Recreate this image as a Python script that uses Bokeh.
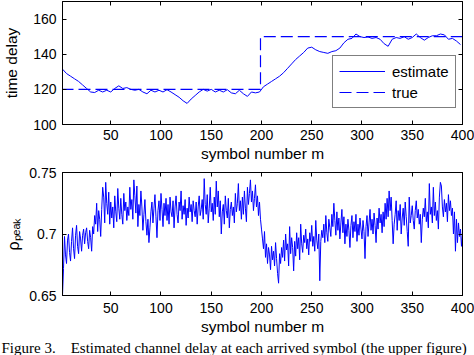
from bokeh.plotting import figure
from bokeh.models import (Range1d, FixedTicker, LinearAxis, Legend, LegendItem, Title,
                          CustomJSTickFormatter)
from bokeh.layouts import column
from bokeh.embed import file_html
from bokeh.resources import INLINE

# ---------------- data ----------------
x_ticks = [50, 100, 150, 200, 250, 300, 350, 400]
delay_ticks = [100, 120, 140, 160]
rho_ticks = [0.65, 0.7, 0.75]

symbols_top = list(range(2, 400, 4))
estimate_delay = [
    131.5, 129.0, 127.5, 126.0, 124.5, 122.5, 120.5, 118.5, 118.2, 119.5,
    118.5, 119.5, 118.5, 120.5, 122.0, 120.5, 121.0, 120.0, 119.5, 120.0,
    118.5, 117.5, 119.5, 118.5, 119.5, 118.5, 119.8, 118.5, 117.0, 115.5,
    113.5, 112.0, 114.5, 116.5, 118.5, 120.0, 119.0, 120.0, 118.5, 119.5,
    118.5, 119.8, 118.0, 117.5, 119.5, 117.5, 116.0, 118.5, 118.0, 118.5,
    121.5, 123.0, 124.5, 126.0, 127.5, 129.5, 132.0, 134.5, 137.0, 139.0,
    141.0, 143.5, 144.0, 142.5, 141.5, 141.0, 140.5, 141.5, 142.0, 143.5,
    146.5, 148.5, 149.0, 151.5, 150.0, 149.5, 149.8, 149.0, 149.5, 148.5,
    146.0, 144.5, 148.5, 149.5, 149.0, 150.0, 148.5, 149.5, 151.5, 149.5,
    148.0, 149.5, 150.5, 150.5, 151.5, 151.0, 148.5, 149.0, 147.5, 145.5,
]

true_symbols = [1, 199, 199, 400]
true_delay = [120, 120, 150, 150]

symbols = list(range(1, 401))
rho_peak_1 = [
    0.680, 0.650, 0.672, 0.698, 0.683, 0.676, 0.695, 0.700, 0.685, 0.678,
    0.694, 0.705, 0.688, 0.680, 0.699, 0.707, 0.690, 0.684, 0.702, 0.696,
    0.686, 0.699, 0.704, 0.692, 0.701, 0.705, 0.694, 0.688, 0.703, 0.697,
    0.686, 0.706, 0.700, 0.715, 0.708, 0.725, 0.702, 0.719, 0.712, 0.698,
    0.720, 0.738, 0.730, 0.709, 0.742, 0.725, 0.716, 0.734, 0.708, 0.726,
    0.713, 0.722, 0.705, 0.731, 0.718, 0.710, 0.737, 0.721, 0.712, 0.729,
    0.716, 0.708, 0.733, 0.719, 0.726, 0.711, 0.722, 0.715, 0.738, 0.720,
    0.728, 0.712, 0.744, 0.731, 0.717, 0.739, 0.706, 0.724, 0.715, 0.735,
    0.722, 0.703, 0.716, 0.728, 0.710, 0.699, 0.712, 0.693, 0.705, 0.718,
    0.726, 0.709, 0.721, 0.732, 0.714, 0.697, 0.719, 0.727, 0.711, 0.733,
]
rho_peak_2 = [
    0.720, 0.706, 0.725, 0.715, 0.729, 0.711, 0.724, 0.708, 0.730, 0.718,
    0.714, 0.727, 0.705, 0.722, 0.731, 0.716, 0.709, 0.726, 0.719, 0.735,
    0.712, 0.723, 0.716, 0.728, 0.707, 0.721, 0.713, 0.730, 0.718, 0.724,
    0.710, 0.727, 0.719, 0.714, 0.726, 0.708, 0.722, 0.731, 0.715, 0.720,
    0.728, 0.712, 0.745, 0.724, 0.716, 0.732, 0.709, 0.721, 0.738, 0.718,
    0.725, 0.711, 0.730, 0.716, 0.743, 0.722, 0.735, 0.714, 0.727, 0.700,
    0.718, 0.724, 0.708, 0.731, 0.719, 0.713, 0.729, 0.705, 0.720, 0.726,
    0.715, 0.722, 0.709, 0.733, 0.718, 0.725, 0.741, 0.719, 0.727, 0.712,
    0.730, 0.716, 0.735, 0.721, 0.710, 0.738, 0.724, 0.733, 0.744, 0.726,
    0.735, 0.719, 0.729, 0.740, 0.722, 0.731, 0.715, 0.726, 0.712, 0.704,
]
rho_peak_3 = [
    0.696, 0.688, 0.702, 0.681, 0.692, 0.676, 0.689, 0.683, 0.671, 0.690,
    0.679, 0.686, 0.674, 0.693, 0.680, 0.668, 0.660, 0.684, 0.676, 0.689,
    0.681, 0.695, 0.678, 0.700, 0.687, 0.692, 0.674, 0.706, 0.684, 0.697,
    0.689, 0.670, 0.694, 0.682, 0.701, 0.688, 0.697, 0.679, 0.708, 0.692,
    0.685, 0.699, 0.693, 0.704, 0.688, 0.696, 0.683, 0.701, 0.694, 0.707,
    0.690, 0.698, 0.686, 0.711, 0.695, 0.688, 0.700, 0.662, 0.694, 0.703,
    0.697, 0.708, 0.693, 0.715, 0.701, 0.694, 0.712, 0.705, 0.698, 0.716,
    0.706, 0.725, 0.711, 0.699, 0.718, 0.703, 0.713, 0.696, 0.709, 0.720,
    0.701, 0.714, 0.692, 0.708, 0.698, 0.712, 0.703, 0.689, 0.707, 0.715,
    0.697, 0.710, 0.702, 0.716, 0.694, 0.708, 0.699, 0.713, 0.704, 0.696,
]
rho_peak_4 = [
    0.711, 0.702, 0.680, 0.706, 0.715, 0.698, 0.709, 0.720, 0.703, 0.712,
    0.700, 0.717, 0.707, 0.693, 0.713, 0.704, 0.721, 0.709, 0.716, 0.701,
    0.718, 0.706, 0.725, 0.712, 0.729, 0.714, 0.735, 0.719, 0.730, 0.711,
    0.692, 0.708, 0.716, 0.727, 0.703, 0.719, 0.711, 0.724, 0.700, 0.713,
    0.721, 0.707, 0.726, 0.714, 0.702, 0.690, 0.730, 0.709, 0.715, 0.723,
    0.711, 0.704, 0.719, 0.727, 0.713, 0.720, 0.708, 0.716, 0.693, 0.712,
    0.721, 0.714, 0.729, 0.710, 0.718, 0.705, 0.741, 0.716, 0.722, 0.709,
    0.738, 0.715, 0.726, 0.711, 0.719, 0.704, 0.730, 0.742, 0.739, 0.722,
    0.714, 0.728, 0.718, 0.725, 0.710, 0.732, 0.719, 0.727, 0.715, 0.721,
    0.700, 0.718, 0.686, 0.712, 0.693, 0.709, 0.698, 0.704, 0.690, 0.701,
]
rho_peak = rho_peak_1 + rho_peak_2 + rho_peak_3 + rho_peak_4

SANS = "Liberation Sans"
BLUE = "#0000ff"
BLANK = CustomJSTickFormatter(code="return ''")


def make_fig(height, y_range, yticks, top_border, bottom_border, tick_standoff, label_standoff):
    p = figure(width=474, height=height, x_range=Range1d(2, 400), y_range=y_range,
               output_backend="svg", toolbar_location=None,
               min_border_left=61, min_border_right=12, min_border_top=top_border,
               min_border_bottom=bottom_border)
    p.grid.visible = False
    p.outline_line_color = "black"
    p.outline_line_width = 1
    p.background_fill_color = "white"
    p.border_fill_color = "white"
    xa = p.xaxis[0]
    ya = p.yaxis[0]
    xa.ticker = FixedTicker(ticks=x_ticks)
    ya.ticker = FixedTicker(ticks=yticks)
    for ax in (xa, ya):
        ax.major_tick_in = 4
        ax.major_tick_out = 0
        ax.minor_tick_in = 0
        ax.minor_tick_out = 0
        ax.axis_line_color = "black"
        ax.major_tick_line_color = "black"
        ax.major_label_text_font = SANS
        ax.major_label_text_font_size = "14px"
        ax.major_label_text_color = "black"
        ax.axis_label_text_font = SANS
        ax.axis_label_text_font_size = "15.5px"
        ax.axis_label_text_font_style = "normal"
        ax.axis_label_text_color = "black"
    xa.major_label_standoff = tick_standoff
    ya.major_label_standoff = 6
    xa.axis_label = "symbol number m"
    xa.axis_label_standoff = label_standoff
    top = LinearAxis(ticker=FixedTicker(ticks=x_ticks), formatter=BLANK,
                     major_tick_in=4, major_tick_out=0,
                     minor_tick_in=0, minor_tick_out=0, major_label_standoff=0,
                     axis_line_color="black")
    right = LinearAxis(ticker=FixedTicker(ticks=yticks), formatter=BLANK,
                       major_tick_in=4, major_tick_out=0,
                       minor_tick_in=0, minor_tick_out=0, major_label_standoff=0,
                       axis_line_color="black")
    p.add_layout(top, "above")
    p.add_layout(right, "right")
    return p


# ---------------- upper figure ----------------
p1 = make_fig(165, Range1d(100, 170), delay_ticks, 1, 41, 5, 2)
p1.yaxis[0].axis_label = "time delay"
p1.yaxis[0].axis_label_standoff = 10
r_est = p1.line(symbols_top, estimate_delay, line_color=BLUE, line_width=1)
r_true = p1.line(true_symbols, true_delay, line_color=BLUE, line_width=1.2, line_dash="12 5")
legend = Legend(items=[LegendItem(label="estimate", renderers=[r_est]),
                       LegendItem(label="true", renderers=[r_true])],
                location=(270, 16), orientation="vertical",
                border_line_color="black", border_line_width=1,
                background_fill_color="white", background_fill_alpha=1,
                label_text_font=SANS, label_text_font_size="15px", label_text_color="black",
                padding=6, spacing=3, glyph_width=46, glyph_height=18, label_height=18,
                label_standoff=7, margin=0)
p1.add_layout(legend)

# ---------------- lower figure ----------------
p2 = make_fig(190, Range1d(0.65, 0.75), rho_ticks, 7, 40, 7, 2)
p2.yaxis[0].major_label_overrides = {0.65: "0.65", 0.7: "0.7", 0.75: "0.75"}
p2.yaxis[0].axis_label = "ρₚₑₐₖ"
p2.yaxis[0].axis_label_text_font_size = "16px"
p2.yaxis[0].axis_label_standoff = 4
p2.line(symbols, rho_peak, line_color=BLUE, line_width=1)
caption = Title(text="Figure 3.\u00a0\u00a0\u00a0\u00a0Estimated channel delay at each arrived symbol (the upper figure)",
                align="left", offset=-61, standoff=0,
                text_font="Liberation Serif", text_font_size="15px",
                text_font_style="normal", text_color="black")
p2.add_layout(caption, "below")

layout = column(p1, p2, spacing=0)
open("out.html", "w").write(file_html(layout, INLINE))
